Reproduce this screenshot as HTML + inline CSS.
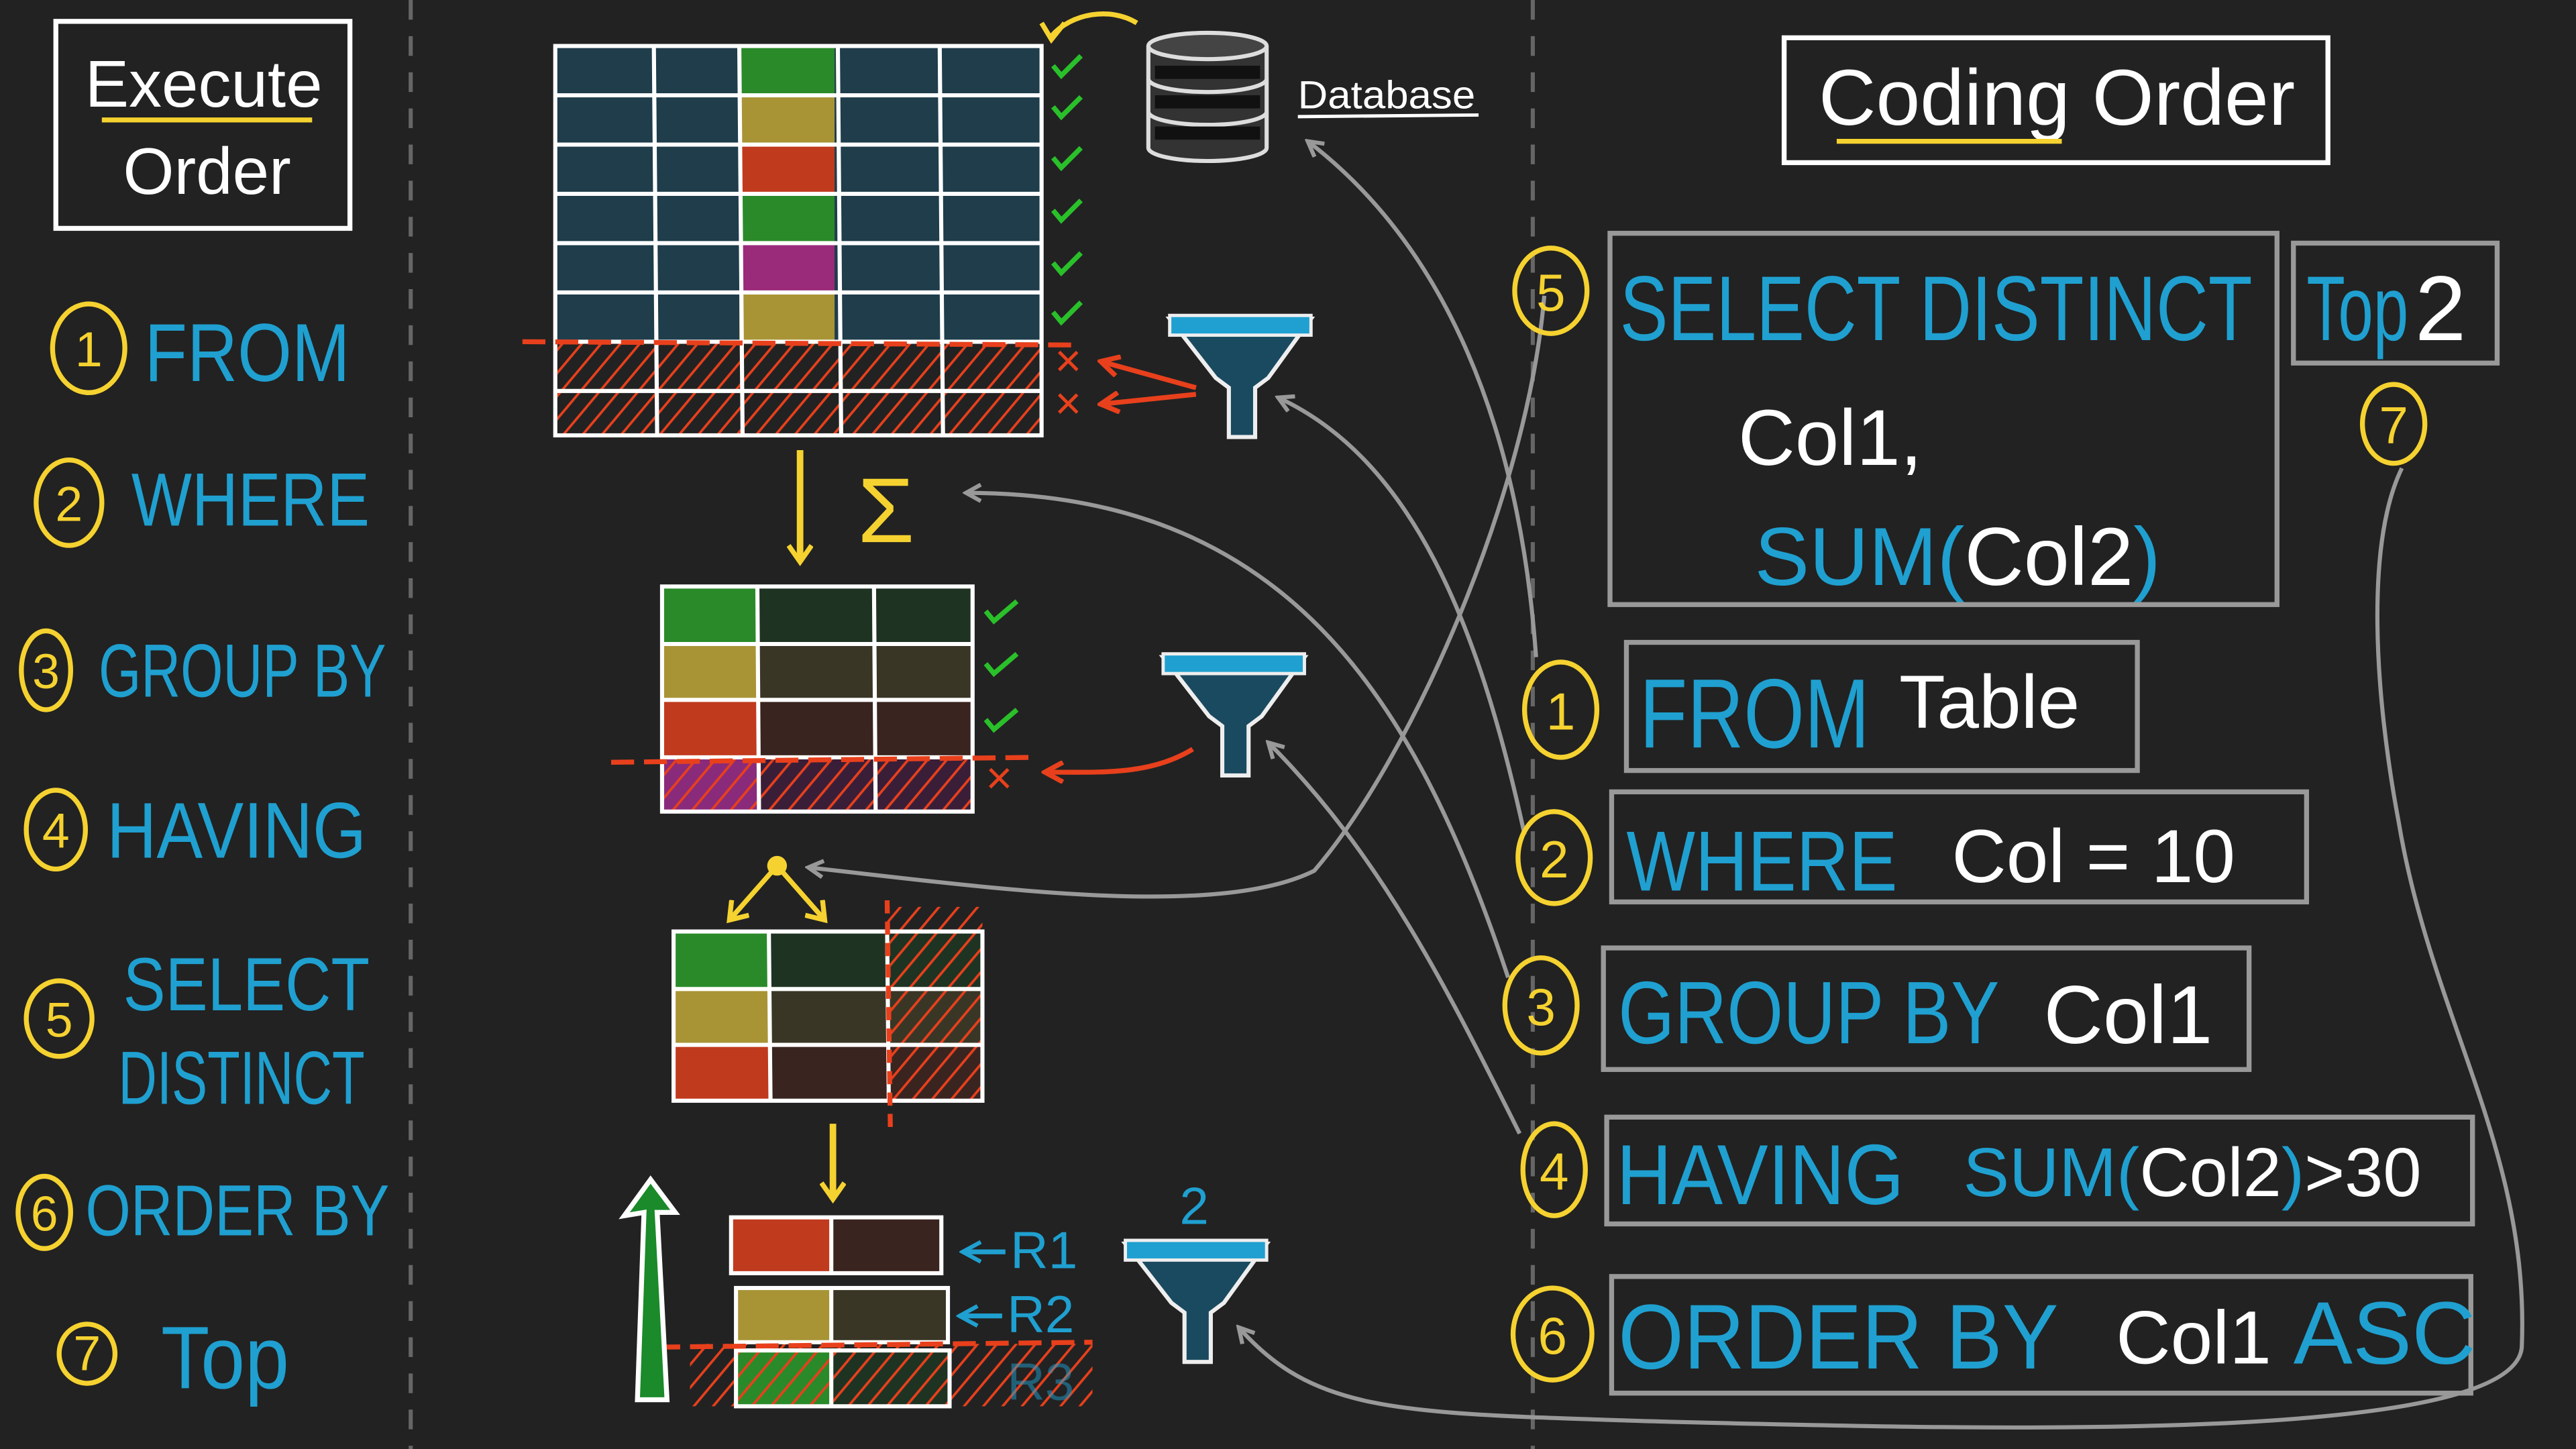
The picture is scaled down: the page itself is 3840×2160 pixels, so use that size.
<!DOCTYPE html>
<html><head><meta charset="utf-8"><style>
html,body{margin:0;padding:0;background:#222;}
svg{display:block;}
text{font-family:"Liberation Sans",sans-serif;}
</style></head><body>
<svg width="3840" height="2160" viewBox="0 0 1568 882" xmlns="http://www.w3.org/2000/svg">
<defs>
<pattern id="h" width="9" height="9" patternUnits="userSpaceOnUse" patternTransform="rotate(40)">
<rect width="9" height="9" fill="none"/><line x1="0" y1="0" x2="0" y2="9" stroke="#e8401c" stroke-width="3"/>
</pattern>
<marker id="ag" markerWidth="12" markerHeight="12" refX="10" refY="6" orient="auto" markerUnits="userSpaceOnUse"><path d="M1,1 L10,6 L1,11" fill="none" stroke="#999" stroke-width="2.5"/></marker>
<marker id="ar" markerWidth="14" markerHeight="14" refX="12" refY="7" orient="auto" markerUnits="userSpaceOnUse"><path d="M1,1 L12,7 L1,13" fill="none" stroke="#e8401c" stroke-width="3"/></marker>
<marker id="ay" markerWidth="16" markerHeight="16" refX="13" refY="8" orient="auto" markerUnits="userSpaceOnUse"><path d="M3,1 L13,8 L3,15" fill="none" stroke="#f5d230" stroke-width="3"/></marker>
<marker id="ab" markerWidth="14" markerHeight="14" refX="12" refY="7" orient="auto" markerUnits="userSpaceOnUse"><path d="M1,1 L12,7 L1,13" fill="none" stroke="#1fa0d0" stroke-width="2.5"/></marker>
</defs>
<rect width="1568" height="882" fill="#222"/>
<line x1="250" y1="0" x2="250" y2="882" stroke="#666" stroke-width="2.5" stroke-dasharray="12,10"/>
<line x1="933" y1="0" x2="933" y2="882" stroke="#666" stroke-width="2.5" stroke-dasharray="12,10"/>

<rect x="34" y="13" width="179" height="126" fill="none" stroke="#fff" stroke-width="3"/>
<text x="124" y="65" font-size="40" fill="#fff" text-anchor="middle">Execute</text>
<line x1="62" y1="73" x2="190" y2="73" stroke="#f5d230" stroke-width="3"/>
<text x="126" y="118" font-size="40" fill="#fff" text-anchor="middle">Order</text>

<g fill="none" stroke="#f5d230" stroke-width="3">
<ellipse cx="54" cy="212" rx="22" ry="27"/><ellipse cx="42" cy="306" rx="20" ry="26"/>
<ellipse cx="28" cy="408" rx="15" ry="24"/><ellipse cx="34" cy="505" rx="18" ry="24"/>
<ellipse cx="36" cy="620" rx="20" ry="23"/><ellipse cx="27" cy="738" rx="16" ry="22"/>
<ellipse cx="53" cy="824" rx="17" ry="18"/>
</g>
<g fill="#f5d230" font-size="30" text-anchor="middle">
<text x="54" y="223">1</text><text x="42" y="317">2</text><text x="28" y="419">3</text><text x="34" y="516">4</text><text x="36" y="631">5</text><text x="27" y="749">6</text><text x="53" y="834">7</text>
</g>
<g fill="#1fa0d0" font-size="50" lengthAdjust="spacingAndGlyphs">
<text x="88" y="232" textLength="125" lengthAdjust="spacingAndGlyphs">FROM</text>
<text x="80" y="320" font-size="46" textLength="145" lengthAdjust="spacingAndGlyphs">WHERE</text>
<text x="60" y="424" font-size="46" textLength="175" lengthAdjust="spacingAndGlyphs">GROUP BY</text>
<text x="65" y="522" font-size="48" textLength="158" lengthAdjust="spacingAndGlyphs">HAVING</text>
<text x="75" y="615" font-size="46" textLength="150" lengthAdjust="spacingAndGlyphs">SELECT</text>
<text x="72" y="672" font-size="46" textLength="150" lengthAdjust="spacingAndGlyphs">DISTINCT</text>
<text x="52" y="752" font-size="44" textLength="185" lengthAdjust="spacingAndGlyphs">ORDER BY</text>
<text x="98" y="845" font-size="54" textLength="78" lengthAdjust="spacingAndGlyphs">Top</text>
</g>

<rect x="338" y="28" width="296" height="237" fill="#1f3d4b"/>
<rect x="450" y="28" width="58" height="30" fill="#2a8a2a"/>
<rect x="450" y="58" width="58" height="30" fill="#a89435"/>
<rect x="450" y="88" width="58" height="30" fill="#c03a1e"/>
<rect x="450" y="118" width="58" height="30" fill="#2a8a2a"/>
<rect x="450" y="148" width="58" height="30" fill="#9a2a7a"/>
<rect x="450" y="178" width="58" height="30" fill="#a89435"/>
<rect x="338" y="208" width="296" height="57" fill="#222"/>
<rect x="338" y="208" width="296" height="57" fill="url(#h)"/>
<g stroke="#fff" stroke-width="2.5" fill="none">
<rect x="338" y="28" width="296" height="237"/>
<line x1="398" y1="28" x2="400" y2="265"/><line x1="450" y1="28" x2="452" y2="265"/><line x1="510" y1="28" x2="512" y2="265"/><line x1="572" y1="28" x2="574" y2="265"/>
<line x1="338" y1="58" x2="634" y2="58"/><line x1="338" y1="88" x2="634" y2="88"/><line x1="338" y1="118" x2="634" y2="118"/><line x1="338" y1="148" x2="634" y2="148"/><line x1="338" y1="178" x2="634" y2="178"/><line x1="338" y1="208" x2="634" y2="208"/><line x1="338" y1="238" x2="634" y2="238"/>
</g>
<line x1="318" y1="208" x2="655" y2="210" stroke="#e8401c" stroke-width="3" stroke-dasharray="14,6"/>
<g stroke="#2ac02a" stroke-width="3" fill="none">
<path d="M641,40 l5,6 l12,-12"/><path d="M641,65 l5,6 l12,-12"/><path d="M641,96 l5,6 l12,-12"/><path d="M641,128 l5,6 l12,-12"/><path d="M641,160 l5,6 l12,-12"/><path d="M641,190 l5,6 l12,-12"/>
</g>
<g fill="#e8401c" font-size="28"><text x="642" y="229">×</text><text x="642" y="255">×</text></g>
<path d="M728,236 L670,220" stroke="#e8401c" stroke-width="3" fill="none" marker-end="url(#ar)"/>
<path d="M728,240 L670,246" stroke="#e8401c" stroke-width="3" fill="none" marker-end="url(#ar)"/>
<path d="M692,14 C676,4 652,8 640,22" stroke="#f5d230" stroke-width="3" fill="none"/>
<path d="M634,14 L640,24 L648,14" stroke="#f5d230" stroke-width="3" fill="none"/>

<g stroke="#ddd" stroke-width="2.5">
<path d="M699,28 L699,90 A36,8 0 0 0 771,90 L771,28" fill="#333"/>
<ellipse cx="735" cy="28" rx="36" ry="8" fill="#444"/>
<path d="M699,48 A36,8 0 0 0 771,48 M699,68 A36,8 0 0 0 771,68" fill="none"/>
<rect x="703" y="40" width="64" height="8" fill="#111" stroke="none"/>
<rect x="703" y="58" width="64" height="8" fill="#111" stroke="none"/>
<rect x="703" y="77" width="64" height="8" fill="#111" stroke="none"/>
</g>
<text x="790" y="66" font-size="24" fill="#fff" textLength="108" lengthAdjust="spacingAndGlyphs">Database</text>
<line x1="790" y1="71" x2="900" y2="70" stroke="#fff" stroke-width="2"/>

<g id="f">
<path d="M712,194 L798,194 L772,230 L764,236 L764,266 L748,266 L748,236 L740,230 Z" fill="#1a4a60" stroke="#eee" stroke-width="2.5"/>
<rect x="712" y="192" width="86" height="12" fill="#1fa0d0" stroke="#eee" stroke-width="2"/>
</g>
<use href="#f" transform="translate(-4,206)"/>
<use href="#f" transform="translate(-27,563)"/>
<text x="718" y="745" fill="#1fa0d0" font-size="32">2</text>

<line x1="487" y1="274" x2="487" y2="342" stroke="#f5d230" stroke-width="4" marker-end="url(#ay)"/>
<text x="522" y="330" font-size="56" fill="#f5d230">Σ</text>

<rect x="403" y="357" width="58" height="35" fill="#2a8a2a"/><rect x="461" y="357" width="131" height="35" fill="#1f3322"/>
<rect x="403" y="392" width="58" height="34" fill="#a89435"/><rect x="461" y="392" width="131" height="34" fill="#3a3626"/>
<rect x="403" y="426" width="58" height="35" fill="#c03a1e"/><rect x="461" y="426" width="131" height="35" fill="#3a2420"/>
<rect x="403" y="461" width="58" height="33" fill="#8a2a7a"/><rect x="461" y="461" width="131" height="33" fill="#3a1e38"/>
<rect x="403" y="461" width="190" height="33" fill="url(#h)"/>
<g stroke="#fff" stroke-width="2.5" fill="none">
<rect x="403" y="357" width="189" height="137"/>
<line x1="461" y1="357" x2="462" y2="494"/><line x1="532" y1="357" x2="533" y2="494"/>
<line x1="403" y1="392" x2="592" y2="392"/><line x1="403" y1="426" x2="592" y2="426"/><line x1="403" y1="461" x2="592" y2="461"/>
</g>
<line x1="372" y1="464" x2="630" y2="461" stroke="#e8401c" stroke-width="3" stroke-dasharray="14,6"/>
<g stroke="#2ac02a" stroke-width="3" fill="none">
<path d="M600,372 l5,6 l14,-12"/><path d="M600,404 l5,6 l14,-12"/><path d="M600,438 l5,6 l14,-12"/>
</g>
<text x="600" y="483" fill="#e8401c" font-size="28">×</text>
<path d="M726,456 C700,472 670,470 636,470" stroke="#e8401c" stroke-width="3" fill="none" marker-end="url(#ar)"/>

<circle cx="473" cy="527" r="6" fill="#f5d230"/>
<line x1="473" y1="527" x2="444" y2="560" stroke="#f5d230" stroke-width="3" marker-end="url(#ay)"/>
<line x1="473" y1="527" x2="502" y2="560" stroke="#f5d230" stroke-width="3" marker-end="url(#ay)"/>

<rect x="410" y="567" width="58" height="35" fill="#2a8a2a"/><rect x="468" y="567" width="130" height="35" fill="#1f3322"/>
<rect x="410" y="602" width="58" height="34" fill="#a89435"/><rect x="468" y="602" width="130" height="34" fill="#3a3626"/>
<rect x="410" y="636" width="58" height="34" fill="#c03a1e"/><rect x="468" y="636" width="130" height="34" fill="#3a2420"/>
<rect x="540" y="552" width="58" height="118" fill="url(#h)"/>
<g stroke="#fff" stroke-width="2.5" fill="none">
<rect x="410" y="567" width="188" height="103"/>
<line x1="468" y1="567" x2="469" y2="670"/><line x1="540" y1="567" x2="541" y2="670"/>
<line x1="410" y1="602" x2="598" y2="602"/><line x1="410" y1="636" x2="598" y2="636"/>
</g>
<line x1="540" y1="548" x2="542" y2="690" stroke="#e8401c" stroke-width="3" stroke-dasharray="8,5"/>

<line x1="507" y1="684" x2="507" y2="730" stroke="#f5d230" stroke-width="4" marker-end="url(#ay)"/>

<rect x="445" y="741" width="61" height="34" fill="#c03a1e"/><rect x="506" y="741" width="67" height="34" fill="#3a2420"/>
<rect x="448" y="784" width="58" height="33" fill="#a89435"/><rect x="506" y="784" width="71" height="33" fill="#3a3626"/>
<rect x="448" y="822" width="58" height="34" fill="#2a8a2a"/><rect x="506" y="822" width="72" height="34" fill="#1f3322"/>
<rect x="420" y="818" width="245" height="38" fill="url(#h)"/>
<g stroke="#fff" stroke-width="2.5" fill="none">
<rect x="445" y="741" width="128" height="34"/><line x1="506" y1="741" x2="506" y2="775"/>
<rect x="448" y="784" width="129" height="33"/><line x1="506" y1="784" x2="506" y2="817"/>
<rect x="448" y="822" width="130" height="34"/><line x1="506" y1="822" x2="506" y2="856"/>
</g>
<line x1="400" y1="820" x2="665" y2="817" stroke="#e8401c" stroke-width="3" stroke-dasharray="14,6"/>
<path d="M388,852 L392,738 L380,740 L396,718 L411,738 L400,738 L406,852 Z" fill="#1a8a2a" stroke="#fff" stroke-width="3"/>
<g fill="#1fa0d0" font-size="32">
<line x1="612" y1="762" x2="586" y2="762" stroke="#1fa0d0" stroke-width="3" marker-end="url(#ab)"/><text x="615" y="772">R1</text>
<line x1="610" y1="801" x2="584" y2="801" stroke="#1fa0d0" stroke-width="3" marker-end="url(#ab)"/><text x="613" y="811">R2</text>
<text x="613" y="852" opacity="0.5">R3</text>
</g>

<g stroke="#999" stroke-width="2.5" fill="none">
<path d="M935,400 C925,260 880,150 796,86" marker-end="url(#ag)"/>
<path d="M928,508 C900,380 860,280 778,242" marker-end="url(#ag)"/>
<path d="M918,595 C860,420 780,300 588,300" marker-end="url(#ag)"/>
<path d="M925,690 C880,600 840,520 772,452" marker-end="url(#ag)"/>
<path d="M940,180 C930,300 860,460 800,530 C740,560 600,540 492,528" marker-end="url(#ag)"/>
<path d="M1462,285 C1440,330 1445,420 1460,500 C1480,620 1540,700 1535,820 C1530,880 1200,870 1000,865 C850,860 800,860 754,808" marker-end="url(#ag)"/>
</g>

<rect x="1086" y="23" width="331" height="76" fill="none" stroke="#fff" stroke-width="3"/>
<text x="1252" y="76" font-size="48" fill="#fff" text-anchor="middle" textLength="290" lengthAdjust="spacingAndGlyphs">Coding Order</text>
<line x1="1118" y1="86" x2="1255" y2="86" stroke="#f5d230" stroke-width="3"/>

<g fill="none" stroke="#999" stroke-width="3">
<rect x="980" y="142" width="406" height="226"/>
<rect x="1396" y="148" width="124" height="73"/>
<rect x="990" y="391" width="311" height="78"/>
<rect x="981" y="482" width="423" height="67"/>
<rect x="976" y="577" width="393" height="74"/>
<rect x="978" y="680" width="527" height="65"/>
<rect x="981" y="777" width="523" height="71"/>
</g>
<g fill="none" stroke="#f5d230" stroke-width="3">
<ellipse cx="944" cy="177" rx="22" ry="26"/><ellipse cx="1457" cy="258" rx="19" ry="24"/>
<ellipse cx="950" cy="432" rx="22" ry="29"/><ellipse cx="946" cy="522" rx="22" ry="28"/>
<ellipse cx="938" cy="612" rx="22" ry="29"/><ellipse cx="946" cy="712" rx="19" ry="28"/>
<ellipse cx="945" cy="812" rx="24" ry="28"/>
</g>
<g fill="#f5d230" font-size="32" text-anchor="middle">
<text x="944" y="189">5</text><text x="1457" y="270">7</text><text x="950" y="444">1</text><text x="946" y="534">2</text><text x="938" y="624">3</text><text x="946" y="724">4</text><text x="945" y="824">6</text>
</g>
<g font-size="56" fill="#1fa0d0">
<text x="986" y="207" textLength="385" lengthAdjust="spacingAndGlyphs">SELECT DISTINCT</text>
<text x="1404" y="207" textLength="62" lengthAdjust="spacingAndGlyphs">Top</text><text x="1470" y="207" fill="#fff">2</text>
<text x="1058" y="283" fill="#fff" font-size="48">Col1,</text>
<text x="1068" y="356" font-size="50">SUM(<tspan fill="#fff">Col2</tspan>)</text>
<text x="998" y="455" font-size="60" textLength="140" lengthAdjust="spacingAndGlyphs">FROM</text><text x="1156" y="443" fill="#fff" font-size="46">Table</text>
<text x="990" y="542" font-size="52" textLength="165" lengthAdjust="spacingAndGlyphs">WHERE</text><text x="1188" y="537" fill="#fff" font-size="46">Col = 10</text>
<text x="985" y="635" font-size="54" textLength="232" lengthAdjust="spacingAndGlyphs">GROUP BY</text><text x="1244" y="635" fill="#fff" font-size="50">Col1</text>
<text x="984" y="733" font-size="52" textLength="175" lengthAdjust="spacingAndGlyphs">HAVING</text><text x="1195" y="728" font-size="42">SUM(<tspan fill="#fff">Col2</tspan>)<tspan fill="#fff">&gt;30</tspan></text>
<text x="985" y="833" font-size="56" textLength="268" lengthAdjust="spacingAndGlyphs">ORDER BY</text><text x="1288" y="830" fill="#fff" font-size="46">Col1</text><text x="1396" y="830" font-size="54">ASC</text>
</g>
</svg>
</body></html>
